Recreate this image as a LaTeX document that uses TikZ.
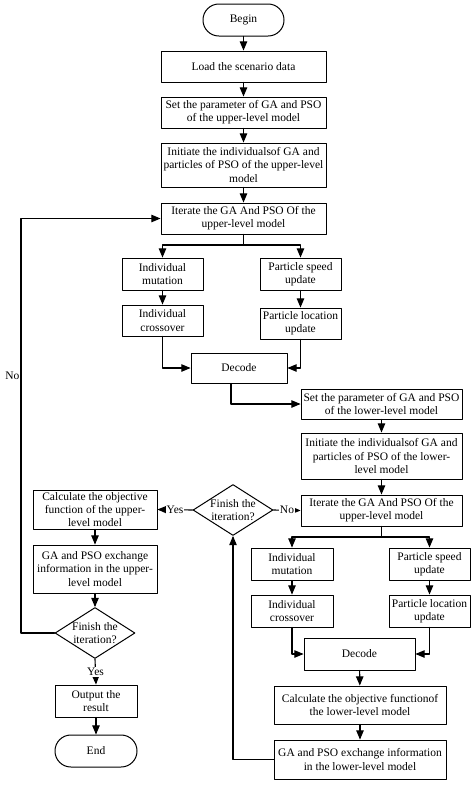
\documentclass[tikz,border=0pt]{standalone}
\usepackage{fontspec}
\setmainfont{Liberation Serif}
\usetikzlibrary{arrows,shapes.geometric}

\tikzset{
	stepbox/.style={draw,rectangle,align=center,inner sep=1pt,line width=1pt},
	termbox/.style={draw,rectangle,rounded corners=15.9pt,align=center,inner sep=1pt,line width=1pt},
	testbox/.style={draw,diamond,align=center,inner sep=-4pt,minimum width=80pt,minimum height=46pt,line width=1pt},
	flow/.style={->,line width=1.1pt},
	tag/.style={fill=white,inner sep=1pt}
}

\begin{document}
\begin{tikzpicture}[line cap=round,line join=round,>=triangle 45,x=1pt,y=-1pt,font=\fontsize{11.5}{13.2}\selectfont]
		\useasboundingbox (0,0) rectangle (474,801);
		% upper-level model
		\node[termbox,minimum width=81pt,minimum height=32pt] (begin) at (243.5,20) {Begin};
		\node[stepbox,minimum width=165pt,minimum height=31pt] (load) at (243.5,66.5) {Load the scenario data};
		\node[stepbox,minimum width=165pt,minimum height=31pt] (setup) at (243.5,112.5) {Set the parameter of GA and PSO\\of the upper-level model};
		\node[stepbox,minimum width=165pt,minimum height=44pt] (initup) at (243.5,165) {Initiate the individualsof GA and\\particles of PSO of the upper-level\\model};
		\node[stepbox,minimum width=165pt,minimum height=31pt] (iterup) at (243.5,218.5) {Iterate the GA And PSO Of the\\upper-level model};
		\node[stepbox,minimum width=81pt,minimum height=32pt] (mutup) at (162.5,274) {Individual\\mutation};
		\node[stepbox,minimum width=81pt,minimum height=32pt] (speedup) at (300.5,274) {Particle speed\\update};
		\node[stepbox,minimum width=81pt,minimum height=31pt] (crossup) at (162.5,320.5) {Individual\\crossover};
		\node[stepbox,minimum width=81pt,minimum height=31pt] (locup) at (300.5,323.5) {Particle location\\update};
		\node[stepbox,minimum width=96pt,minimum height=30pt] (decup) at (239,368) {Decode};
		% lower-level model
		\node[stepbox,minimum width=161pt,minimum height=30pt] (setlow) at (381.5,404) {Set the parameter of GA and PSO\\of the lower-level model};
		\node[stepbox,minimum width=161pt,minimum height=46pt] (initlow) at (381.5,456) {Initiate the individualsof GA and\\particles of PSO of the lower-\\level model};
		\node[stepbox,minimum width=161pt,minimum height=31pt] (iterlow) at (381.5,510.5) {Iterate the GA And PSO Of the\\upper-level model};
		\node[testbox] (finlow) at (233,510) {Finish the\\iteration?};
		\node[stepbox,minimum width=82pt,minimum height=32pt] (mutlow) at (292,564) {Individual\\mutation};
		\node[stepbox,minimum width=81pt,minimum height=32pt] (speedlow) at (429.5,564) {Particle speed\\update};
		\node[stepbox,minimum width=82pt,minimum height=32pt] (crosslow) at (292,611) {Individual\\crossover};
		\node[stepbox,minimum width=81pt,minimum height=32pt] (loclow) at (429.5,611) {Particle location\\update};
		\node[stepbox,minimum width=111pt,minimum height=32pt] (declow) at (359.5,654) {Decode};
		\node[stepbox,minimum width=172pt,minimum height=38pt] (calclow) at (360,705) {Calculate the objective functionof\\the lower-level model};
		\node[stepbox,minimum width=172pt,minimum height=39pt] (exlow) at (360,759.5) {GA and PSO exchange information\\in the lower-level model};
		% back in the upper level
		\node[stepbox,minimum width=124pt,minimum height=39pt] (calcup) at (95,509.5) {Calculate the objective\\function of the upper-\\level model};
		\node[stepbox,minimum width=124pt,minimum height=48pt] (exup) at (95,569) {GA and PSO exchange\\information in the upper-\\level model};
		\node[testbox] (finup) at (95,633) {Finish the\\iteration?};
		\node[stepbox,minimum width=82pt,minimum height=32pt] (output) at (96,701) {Output the\\result};
		\node[termbox,minimum width=82pt,minimum height=32pt] (end) at (96,751) {End};
		\coordinate (splitup) at (243.5,245);
		\coordinate (splitlow) at (381.5,537);
		\coordinate (loopup) at (21,633);
		% connectors
		\draw [flow] (begin) -- (load);
		\draw [flow] (load) -- (setup);
		\draw [flow] (setup) -- (initup);
		\draw [flow] (initup) -- (iterup);
		\draw [line width=1.1pt] (iterup.south) -- (splitup);
		\draw [flow] (splitup) -| (mutup.north);
		\draw [flow] (splitup) -| (speedup.north);
		\draw [flow] (mutup) -- (crossup);
		\draw [flow] (speedup) -- (locup);
		\draw [flow] (crossup.south) |- (decup.west);
		\draw [flow] (locup.south) |- (decup.east);
		\draw [flow] ([xshift=-8pt]decup.south) |- (setlow.west);
		\draw [flow] (setlow) -- (initlow);
		\draw [flow] (initlow) -- (iterlow);
		\draw [flow] (finlow.east) -- node[tag] {No} (iterlow.west);
		\draw [flow] (finlow.west) -- node[tag] {Yes} (calcup.east);
		\draw [line width=1.1pt] (iterlow.south) -- (splitlow);
		\draw [flow] (splitlow) -| (mutlow.north);
		\draw [flow] (splitlow) -| (speedlow.north);
		\draw [flow] (mutlow) -- (crosslow);
		\draw [flow] (speedlow) -- (loclow);
		\draw [flow] (crosslow.south) |- (declow.west);
		\draw [flow] (loclow.south) |- (declow.east);
		\draw [flow] (declow) -- (calclow);
		\draw [flow] (calclow) -- (exlow);
		\draw [flow] (exlow.west) -| (finlow.south);
		\draw [flow] (calcup) -- (exup);
		\draw [flow] (exup) -- (finup);
		\draw [flow] (finup.south) -- node[tag] {Yes} (output.north);
		\draw [flow] (output) -- (end);
		\draw [flow] (finup.west) -- (loopup) |- node[pos=0.31,left,inner sep=1pt] {No} (iterup.west);
	\end{tikzpicture}
\end{document}
